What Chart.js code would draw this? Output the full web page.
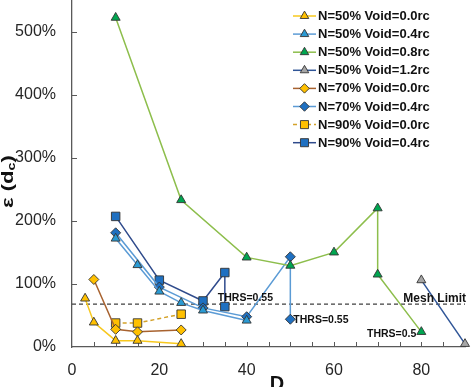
<!DOCTYPE html>
<html><head><meta charset="utf-8">
<script src="https://cdn.jsdelivr.net/npm/chart.js@4/dist/chart.umd.min.js"></script>
<style>html,body{margin:0;padding:0;background:#fff;}canvas{display:block;}</style>
</head><body>
<canvas id="c" width="474" height="387"></canvas>
<script>
// ---- data ----
const seriesNames = ['N=50% Void=0.0rc','N=50% Void=0.4rc','N=50% Void=0.8rc','N=50% Void=1.2rc',
                     'N=70% Void=0.0rc','N=70% Void=0.4rc','N=90% Void=0.0rc','N=90% Void=0.4rc'];
const n50v00_x = [3, 5, 10, 15, 25];
const n50v00_y = [77, 39, 10, 10, 5];
const n50v04_x = [10, 15, 20, 25, 30, 40];
const n50v04_y = [172, 130, 88, 70, 58, 42];
const n50v08_x = [10, 25, 40, 50, 60, 70, 70, 80];
const n50v08_y = [522, 233, 142, 129, 150, 220, 115, 24];
const n50v12_x = [80, 90];
const n50v12_y = [106, 5];
const n70v00_x = [5, 10, 15, 25];
const n70v00_y = [107, 28, 24, 27];
const n70v04_x = [10, 20, 30, 40, 50, 50];
const n70v04_y = [181, 95, 62, 48, 143, 44];
const n90v00_x = [10, 15, 25];
const n90v00_y = [38, 38, 52];
const n90v04_x = [10, 20, 30, 35, 35];
const n90v04_y = [207, 106, 73, 118, 64];
const meshLimit = 68;
const xTickValues = [0, 20, 40, 60, 80];
const yTickValues = [0, 100, 200, 300, 400, 500];
const annotations = [
  {text: 'THRS=0.55', x: 35, y: 64},
  {text: 'THRS=0.55', x: 50, y: 44},
  {text: 'THRS=0.5', x: 80, y: 24},
  {text: 'Mesh Limit', x: 90, y: meshLimit}
];

function pts(xs, ys) { return xs.map((x, i) => ({x: x, y: ys[i]})); }

const styles = [
  {line: '#F7C81E', fill: '#FFC000', shape: 'triangle', dash: []},
  {line: '#5B9BD5', fill: '#2A9AD3', shape: 'triangle', dash: []},
  {line: '#8DBE4C', fill: '#00A651', shape: 'triangle', dash: []},
  {line: '#2F5597', fill: '#A6A6A6', shape: 'triangle', dash: []},
  {line: '#A8622F', fill: '#FFC000', shape: 'rectRot', dash: []},
  {line: '#5B9BD5', fill: '#1F70C1', shape: 'rectRot', dash: []},
  {line: '#D4A22A', fill: '#FFC000', shape: 'rect', dash: [4, 3]},
  {line: '#2F4B8C', fill: '#1F70C1', shape: 'rect', dash: []}
];
const radii = {triangle: 5.2, rectRot: 5, rect: 6};
const seriesData = [
  pts(n50v00_x, n50v00_y), pts(n50v04_x, n50v04_y), pts(n50v08_x, n50v08_y), pts(n50v12_x, n50v12_y),
  pts(n70v00_x, n70v00_y), pts(n70v04_x, n70v04_y), pts(n90v00_x, n90v00_y), pts(n90v04_x, n90v04_y)
];

const datasets = seriesData.map((d, i) => ({
  label: seriesNames[i],
  data: d,
  borderColor: styles[i].line,
  borderWidth: 1.5,
  borderDash: styles[i].dash,
  backgroundColor: styles[i].fill,
  pointBackgroundColor: styles[i].fill,
  pointBorderColor: '#333',
  pointBorderWidth: 0.9,
  pointStyle: styles[i].shape,
  pointRadius: radii[styles[i].shape],
  tension: 0,
  fill: false,
  clip: false
}));
datasets.push({
  label: 'Mesh Limit',
  data: [{x: 0, y: meshLimit}, {x: 90, y: meshLimit}],
  borderColor: '#404040',
  borderWidth: 1.2,
  borderDash: [4, 3],
  pointRadius: 0,
  fill: false,
  order: 10
});

function drawMarker(ctx, shape, r, x, y) {
  ctx.beginPath();
  if (shape === 'triangle') {
    ctx.moveTo(x, y - r);
    ctx.lineTo(x + r * Math.sin(2 * Math.PI / 3), y - r * Math.cos(2 * Math.PI / 3));
    ctx.lineTo(x + r * Math.sin(4 * Math.PI / 3), y - r * Math.cos(4 * Math.PI / 3));
  } else if (shape === 'rectRot') {
    ctx.moveTo(x - r, y); ctx.lineTo(x, y - r); ctx.lineTo(x + r, y); ctx.lineTo(x, y + r);
  } else {
    const s = r * Math.SQRT1_2;
    ctx.rect(x - s, y - s, 2 * s, 2 * s);
  }
  ctx.closePath();
  ctx.fill();
  ctx.stroke();
}

const decor = {
  id: 'decor',
  beforeDatasetsDraw(chart) {
    const ctx = chart.ctx, xs = chart.scales.x, ys = chart.scales.y, a = chart.chartArea;
    ctx.save();
    ctx.strokeStyle = '#595959';
    ctx.lineWidth = 1;
    for (let v = 5; v <= 90; v += 5) {
      const px = Math.round(xs.getPixelForValue(v)) + 0.5;
      ctx.beginPath(); ctx.moveTo(px, a.bottom); ctx.lineTo(px, a.bottom - 5); ctx.stroke();
    }
    for (let v = 100; v <= 500; v += 100) {
      const py = Math.round(ys.getPixelForValue(v)) + 0.5;
      ctx.beginPath(); ctx.moveTo(a.left, py); ctx.lineTo(a.left + 5, py); ctx.stroke();
    }
    ctx.restore();
  },
  afterDraw(chart) {
    const ctx = chart.ctx, xs = chart.scales.x, ys = chart.scales.y;
    ctx.save();
    // legend
    ctx.font = 'bold 13px "Liberation Sans", Arial, sans-serif';
    ctx.textBaseline = 'middle';
    ctx.textAlign = 'left';
    for (let i = 0; i < seriesNames.length; i++) {
      const y = 16 + i * 18.1;
      ctx.strokeStyle = styles[i].line;
      ctx.lineWidth = 1.5;
      ctx.setLineDash(styles[i].dash);
      ctx.beginPath(); ctx.moveTo(293, y); ctx.lineTo(316, y); ctx.stroke();
      ctx.setLineDash([]);
      ctx.fillStyle = styles[i].fill;
      ctx.strokeStyle = '#333';
      ctx.lineWidth = 0.9;
      drawMarker(ctx, styles[i].shape, radii[styles[i].shape] * 0.95, 304.5, y);
      ctx.fillStyle = '#111';
      ctx.fillText(seriesNames[i], 318, y + 0.5);
    }
    // annotations
    ctx.fillStyle = '#111';
    ctx.textBaseline = 'alphabetic';
    const an = annotations;
    ctx.font = 'bold 10.5px "Liberation Sans", Arial, sans-serif';
    ctx.textAlign = 'left';
    ctx.fillText(an[0].text, xs.getPixelForValue(an[0].x) - 7, ys.getPixelForValue(an[0].y) - 6);
    ctx.fillText(an[1].text, xs.getPixelForValue(an[1].x) + 3, ys.getPixelForValue(an[1].y) + 4);
    ctx.textAlign = 'right';
    ctx.fillText(an[2].text, xs.getPixelForValue(an[2].x) - 5, ys.getPixelForValue(an[2].y) + 5);
    ctx.font = 'bold 12px "Liberation Sans", Arial, sans-serif';
    ctx.fillText(an[3].text, xs.getPixelForValue(an[3].x) + 1, ys.getPixelForValue(an[3].y) - 2);
    // axis titles
    ctx.textAlign = 'center';
    ctx.textBaseline = 'top';
    ctx.font = 'bold 20px "Liberation Sans", Arial, sans-serif';
    ctx.fillText('D', 277, 374);
    ctx.translate(13, 208);
    ctx.rotate(-Math.PI / 2);
    ctx.scale(1.3, 1);
    ctx.textAlign = 'left';
    ctx.textBaseline = 'alphabetic';
    const f1 = 'bold 17px "Liberation Sans", Arial, sans-serif';
    const f2 = 'bold 11px "Liberation Sans", Arial, sans-serif';
    ctx.font = f1;
    let t = 'ε (d';
    ctx.fillText(t, 0, 0);
    let w = ctx.measureText(t).width;
    ctx.font = f2;
    ctx.fillText('c', w, 2);
    w += ctx.measureText('c').width;
    ctx.font = f1;
    ctx.fillText(')', w, 0);
    ctx.restore();
  }
};

const tickFont = {family: '"Liberation Sans", Arial, sans-serif', size: 16};
new Chart(document.getElementById('c'), {
  type: 'line',
  data: {datasets: datasets},
  options: {
    responsive: false,
    animation: false,
    devicePixelRatio: 1,
    layout: {autoPadding: false, padding: {top: 0, right: 9, left: 0, bottom: 0}},
    plugins: {legend: {display: false}, tooltip: {enabled: false}},
    scales: {
      x: {
        type: 'linear', min: 0, max: 90,
        afterFit: s => { s.height = 40; s.paddingLeft = 0; s.paddingRight = 0; },
        afterBuildTicks: s => { s.ticks = xTickValues.map(v => ({value: v})); },
        ticks: {font: tickFont, color: '#262626', padding: 14, maxRotation: 0, autoSkip: false},
        grid: {display: false, drawTicks: false},
        border: {display: true, color: '#595959', width: 1.3}
      },
      y: {
        type: 'linear', min: 0, max: 550,
        afterFit: s => { s.width = 72; s.paddingTop = 0; s.paddingBottom = 0; },
        afterBuildTicks: s => { s.ticks = yTickValues.map(v => ({value: v})); },
        ticks: {font: tickFont, color: '#262626', padding: 16, callback: v => v + '%'},
        grid: {display: false, drawTicks: false},
        border: {display: true, color: '#595959', width: 1.3}
      }
    }
  },
  plugins: [decor]
});
</script>
</body></html>
